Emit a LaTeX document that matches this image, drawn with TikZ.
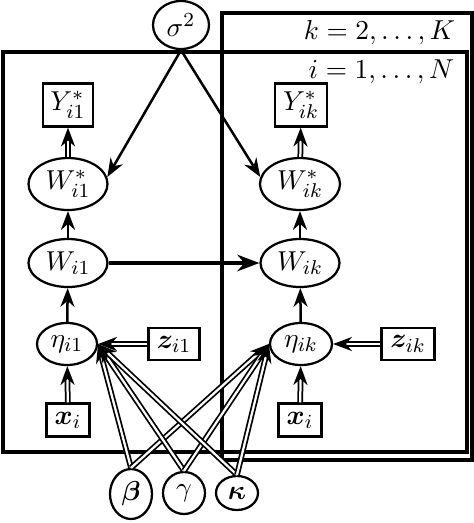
\documentclass[tikz,border=0pt]{standalone}
\usepackage{amsmath,amssymb}
\usepackage{bm}
\usetikzlibrary{arrows.meta,shapes,positioning}

\begin{document}
\begin{tikzpicture}[x=0.4pt,y=-0.4pt,
    every node/.style={font=\fontsize{11}{13}\selectfont},
    var/.style={draw,ellipse,line width=0.9pt,inner sep=0pt},
    obs/.style={draw,rectangle,line width=0.9pt,inner sep=0pt},
    plate/.style={draw,line width=1.4pt},
    dep/.style={line width=1pt,black,-{Stealth}},
    det/.style={line width=0.7pt,double,double distance=0.9pt,-{Stealth}}]
    \useasboundingbox (0,0) rectangle (474,523);
    % plates
    \draw[plate] (3,52) rectangle (467,452);
    \draw[plate] (222,13) rectangle (472,460);
    \node[anchor=base east] (kl) at (464,39) {$k=2,\ldots,K$};
    \node[anchor=base east] (il) at (463,78) {$i=1,\ldots,N$};
    % variables
    \node[var,minimum width=22.4pt,minimum height=19.2pt] (s2) at (181,25) {$\sigma^2$};
    \node[obs,minimum width=20pt,minimum height=17.2pt] (y1) at (68,105) {$Y^*_{i1}$};
    \node[var,minimum width=31.6pt,minimum height=20.8pt] (ws1) at (68,184) {$W^*_{i1}$};
    \node[var,minimum width=31.6pt,minimum height=19.2pt] (w1) at (68,263) {$W_{i1}$};
    \node[var,minimum width=24pt,minimum height=16.8pt] (eta1) at (67,344) {$\eta_{i1}$};
    \node[obs,minimum width=17.2pt,minimum height=13.2pt] (x1) at (68,420) {$\bm{x}_i$};
    \node[obs,minimum width=20.4pt,minimum height=12.8pt] (z1) at (174,344) {$\bm{z}_{i1}$};
    \node[obs,minimum width=20.8pt,minimum height=17.2pt] (yk) at (301,105) {$Y^*_{ik}$};
    \node[var,minimum width=32pt,minimum height=20.8pt] (wsk) at (300,184) {$W^*_{ik}$};
    \node[var,minimum width=31.6pt,minimum height=19.2pt] (wk) at (300,263) {$W_{ik}$};
    \node[var,minimum width=24.8pt,minimum height=16.8pt] (etak) at (301,344) {$\eta_{ik}$};
    \node[obs,minimum width=17.2pt,minimum height=13.2pt] (xk) at (300,420) {$\bm{x}_i$};
    \node[obs,minimum width=21.2pt,minimum height=12.8pt] (zk) at (408,344) {$\bm{z}_{ik}$};
    \node[var,minimum width=16.8pt,minimum height=20pt] (beta) at (131,494) {$\bm{\beta}$};
    \node[var,minimum width=16.8pt,minimum height=16.8pt] (gamma) at (184,493) {$\gamma$};
    \node[var,minimum width=16.8pt,minimum height=13.6pt] (kappa) at (237,493) {$\bm{\kappa}$};
    % edges
    \draw[det] (ws1) -- (y1);
    \draw[det] (wsk) -- (yk);
    \draw[dep] (w1) -- (ws1);
    \draw[dep] (wk) -- (wsk);
    \draw[dep] (eta1) -- (w1);
    \draw[dep] (etak) -- (wk);
    \draw[dep,line width=1.3pt] (w1) -- (wk);
    \draw[dep] (s2.south) -- (ws1.10);
    \draw[dep] (s2.south) -- (wsk.170);
    \draw[det] (x1) -- (eta1);
    \draw[det] (xk) -- (etak);
    \draw[det] (z1) -- (eta1);
    \draw[det] (zk) -- (etak);
    \foreach \p in {beta,gamma,kappa} {
      \draw[det] (\p.north) -- (eta1.east);
      \draw[det] (\p.north) -- (etak.west);
    }
\end{tikzpicture}
\end{document}
